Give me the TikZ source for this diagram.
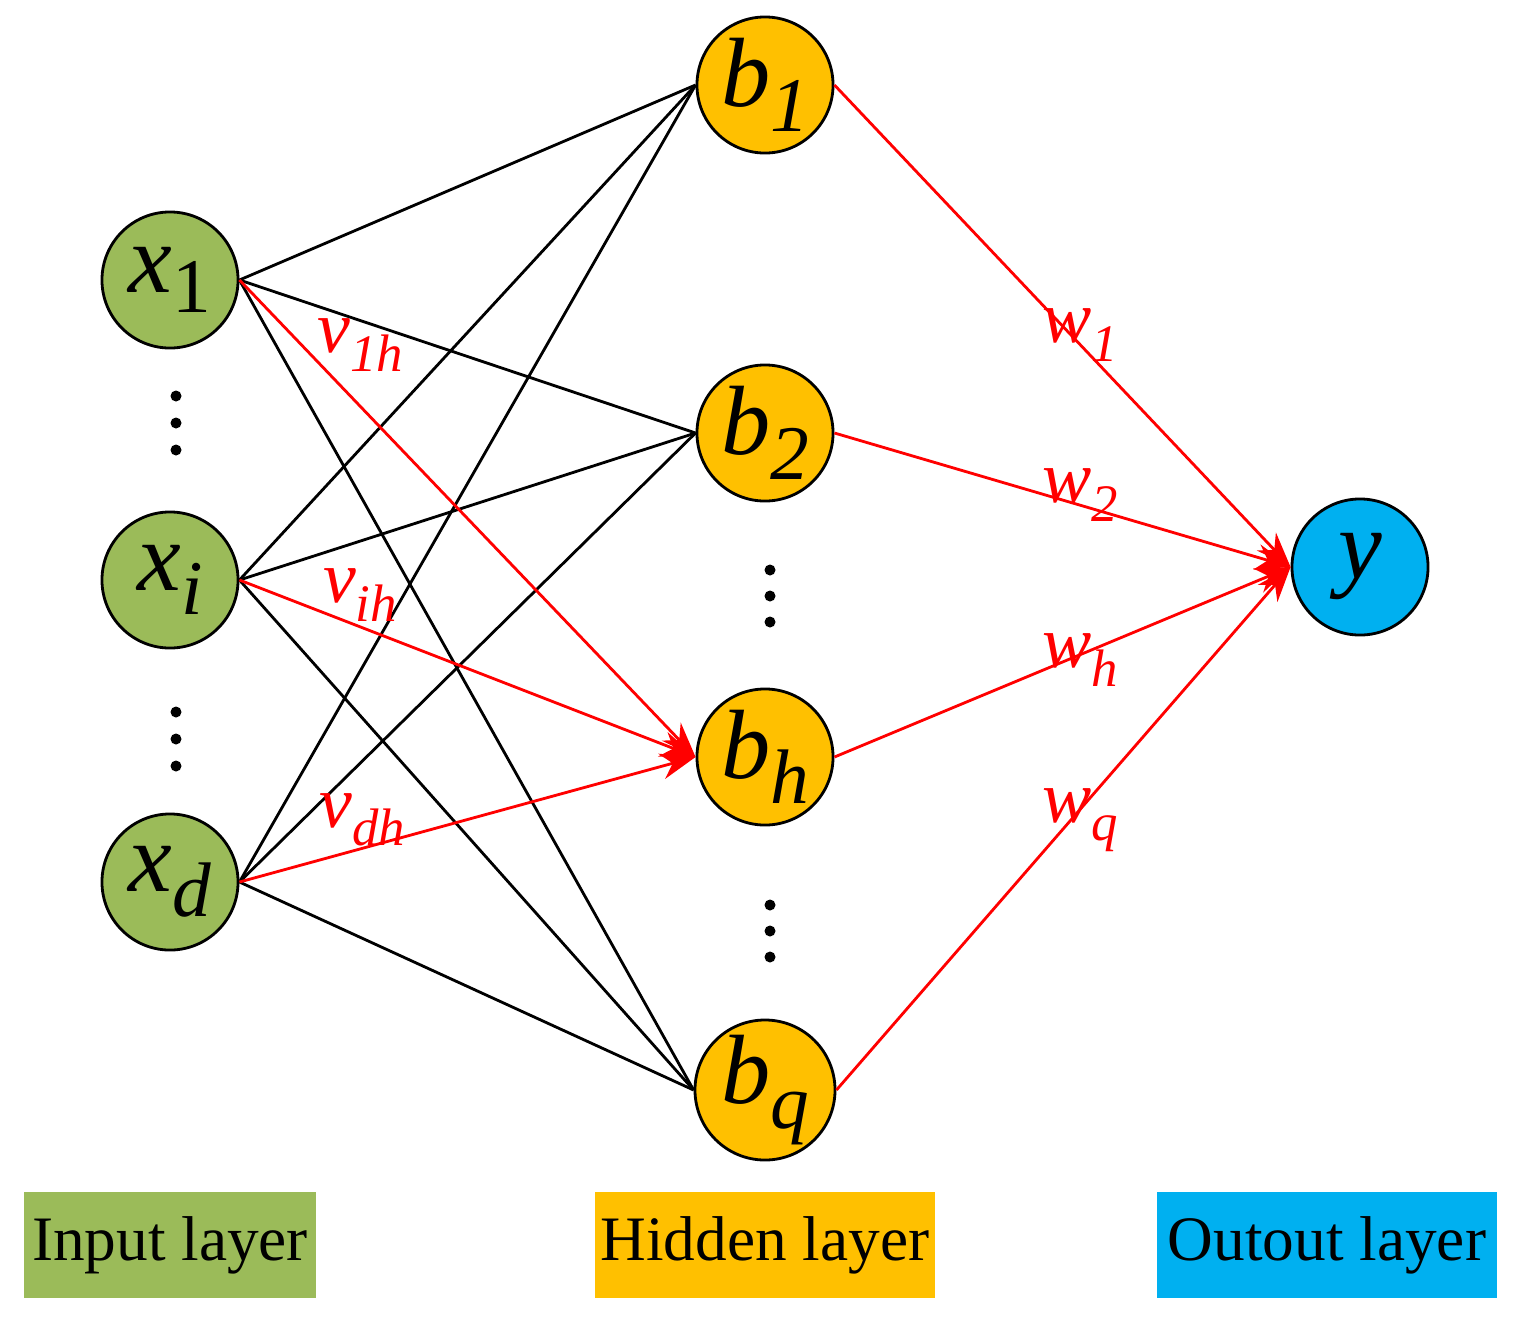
\documentclass[tikz,border=0pt]{standalone}
\usepackage{fontspec}
\setmainfont{Liberation Serif}
\usetikzlibrary{arrows.meta}
\definecolor{ingreen}{HTML}{9BBB59}
\definecolor{hidorange}{HTML}{FFC000}
\definecolor{outblue}{HTML}{00B0F0}
\tikzset{
  neuron/.style={circle, draw, thick, minimum size=1.36cm, inner sep=0pt, font=\fontsize{28}{30}\selectfont\itshape},
  layerbox/.style={minimum width=2.92cm, minimum height=1.06cm, inner sep=0pt, font=\fontsize{18}{20}\selectfont},
  wlabel/.style={red, font=\fontsize{21}{23}\selectfont\itshape},
  plain/.style={black, thick},
  weight/.style={red, thick, -{Stealth[length=3.5mm,width=2.6mm]}},
  dot/.style={circle, fill, inner sep=0pt, minimum size=0.11cm}
}
\begin{document}
\begin{tikzpicture}[x=0.01cm, y=-0.01cm]
\useasboundingbox (0,0) rectangle (1528,1339);
% input layer
\node[neuron, fill=ingreen] (x1) at (170,280) {x\textup{\fontsize{22}{24}\selectfont\raisebox{-0.25em}{1}}};
\node[neuron, fill=ingreen] (xi) at (170,580) {x\raisebox{-0.25em}{\fontsize{22}{24}\selectfont i}};
\node[neuron, fill=ingreen] (xd) at (170,882) {x\raisebox{-0.25em}{\fontsize{22}{24}\selectfont d}};
% hidden layer
\node[neuron, fill=hidorange] (b1) at (765,85) {b\raisebox{-0.25em}{\fontsize{22}{24}\selectfont 1}};
\node[neuron, fill=hidorange] (b2) at (765,433) {b\raisebox{-0.25em}{\fontsize{22}{24}\selectfont 2}};
\node[neuron, fill=hidorange] (bh) at (765,757) {b\raisebox{-0.25em}{\fontsize{22}{24}\selectfont h}};
\node[neuron, fill=hidorange] (bq) at (765,1090) {b\raisebox{-0.25em}{\fontsize{22}{24}\selectfont q}};
% output layer
\node[neuron, fill=outblue] (y) at (1360,567) {y};
% dots
\foreach \k in {0,1,2} {
  \node[dot] (ldotA\k) at (176,396+27*\k) {};
  \node[dot] (ldotB\k) at (176,712+27*\k) {};
  \node[dot] (hdotA\k) at (770,570+26*\k) {};
  \node[dot] (hdotB\k) at (770,905+26*\k) {};
}
% black connections
\foreach \i in {x1,xi,xd}
  \foreach \j in {b1,b2,bq}
    \draw[plain] (\i.east) -- (\j.west);
% red weights
\foreach \i in {x1,xi,xd}
  \draw[weight] (\i.east) -- (bh.west);
\foreach \j in {b1,b2,bh,bq}
  \draw[weight] (\j.east) -- (y.west);
\node[wlabel] (v1h) at (360,345) {v\raisebox{-0.25em}{\fontsize{15}{17}\selectfont 1h}};
\node[wlabel] (vih) at (360,595) {v\raisebox{-0.25em}{\fontsize{15}{17}\selectfont ih}};
\node[wlabel] (vdh) at (362,820) {v\raisebox{-0.25em}{\fontsize{15}{17}\selectfont dh}};
\node[wlabel] (w1) at (1080,335) {w\raisebox{-0.25em}{\fontsize{15}{17}\selectfont 1}};
\node[wlabel] (w2) at (1080,495) {w\raisebox{-0.25em}{\fontsize{15}{17}\selectfont 2}};
\node[wlabel] (wh) at (1080,660) {w\raisebox{-0.25em}{\fontsize{15}{17}\selectfont h}};
\node[wlabel] (wq) at (1080,820) {w\raisebox{-0.25em}{\fontsize{15}{17}\selectfont q}};
% layer names
\node[layerbox, fill=ingreen] (inbox) at (170,1245) {Input layer};
\node[layerbox, fill=hidorange, minimum width=3.39cm] (hidbox) at (765,1245) {Hidden layer};
\node[layerbox, fill=outblue, minimum width=3.39cm] (outbox) at (1327,1245) {Outout layer};
\end{tikzpicture}
\end{document}
